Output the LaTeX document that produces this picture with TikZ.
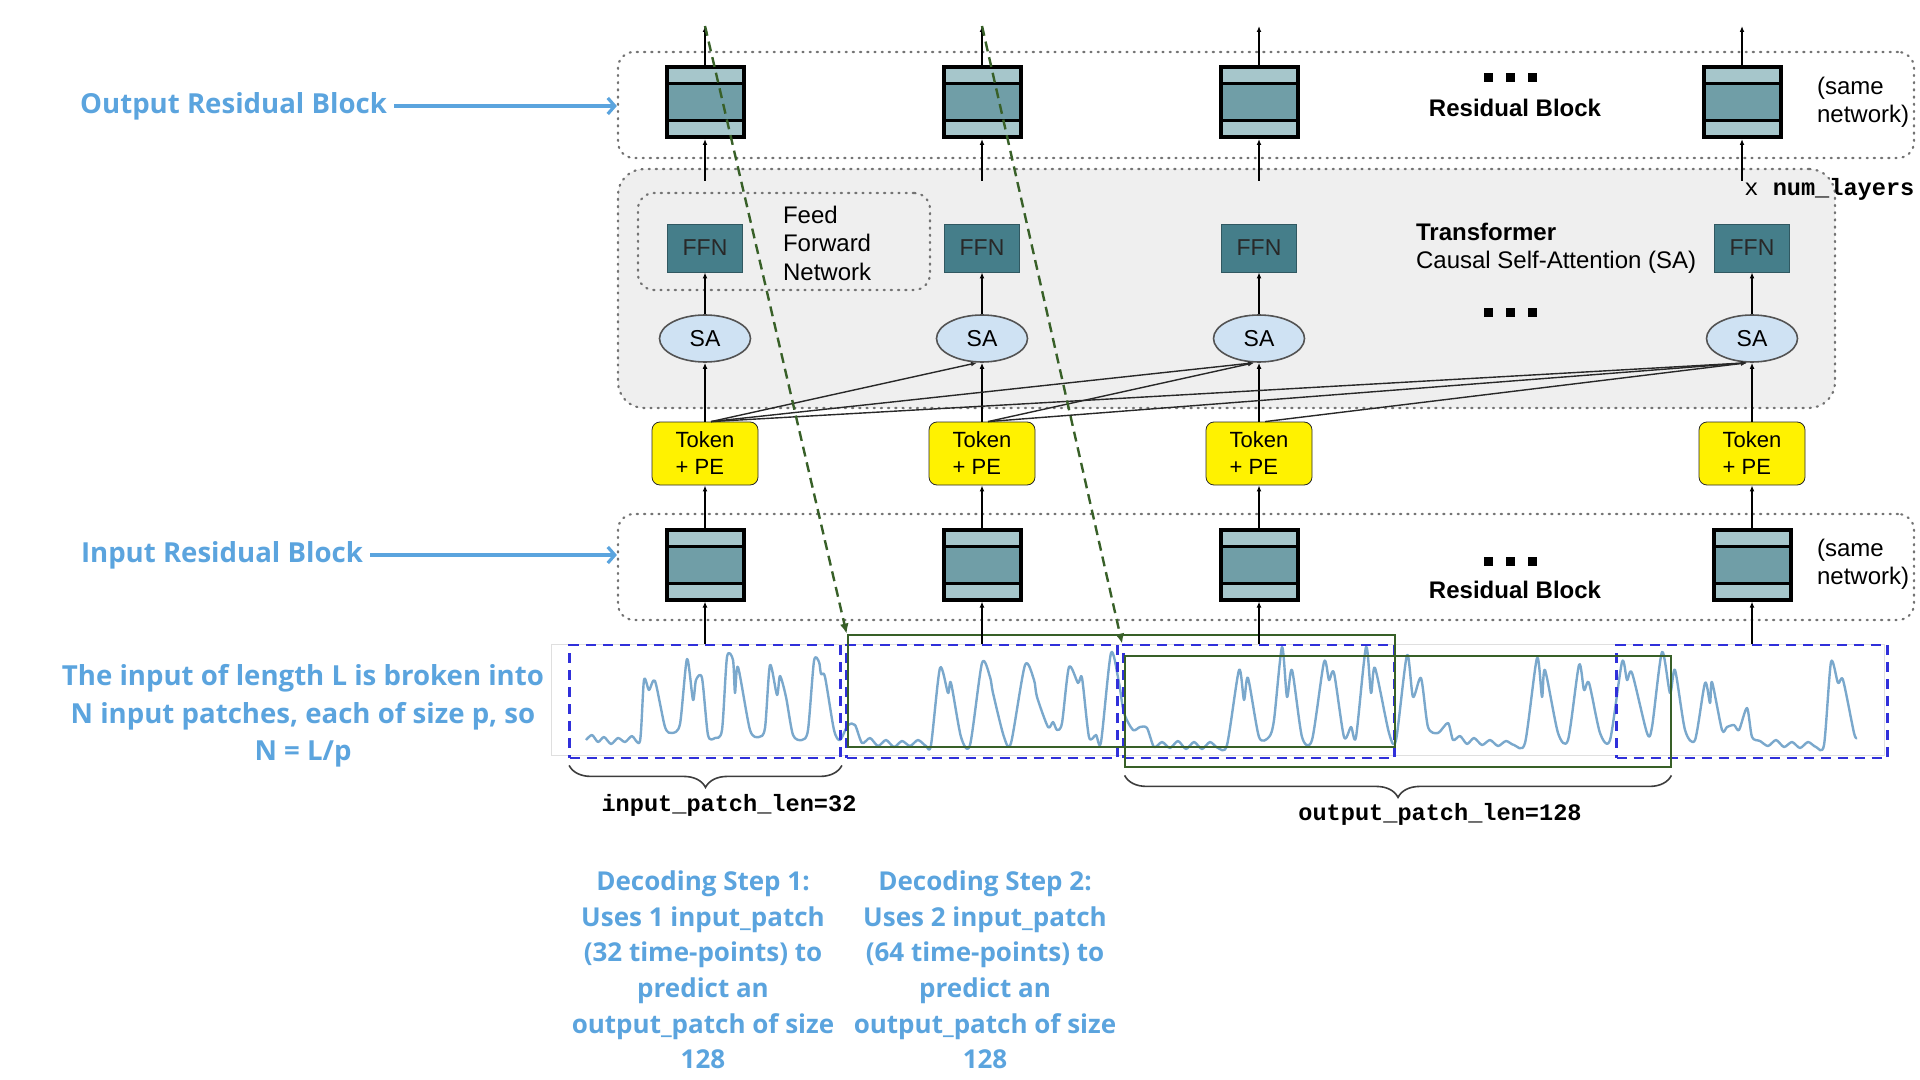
\documentclass[tikz,border=0pt]{standalone}
\usepackage{fontspec}
\setmainfont{Liberation Sans}
\newfontfamily\notefont{Open Sans}
\newfontfamily\codefont{Liberation Mono}
\usepackage{tikz}
\usetikzlibrary{arrows.meta, calc, positioning, shapes.geometric, decorations.pathreplacing}
\usepackage{xcolor}
\definecolor{NoteBlue}{RGB}{91,164,222}
\definecolor{ResLite}{RGB}{166,198,203}
\definecolor{ResMid}{RGB}{112,158,167}
\definecolor{FfnTeal}{RGB}{69,126,138}
\definecolor{SaBlue}{RGB}{207,226,243}
\definecolor{AreaGray}{RGB}{239,239,239}
\definecolor{PatchBlue}{RGB}{48,48,218}
\definecolor{OutGreen}{RGB}{56,96,40}
\definecolor{SeriesBlue}{RGB}{122,168,204}
\definecolor{RichBlack}{RGB}{40,40,40}
\tikzset{%
  res_block/.style={%
    rectangle,%
    draw=black,%
    line width=2pt,%
    fill=ResMid,%
    inner sep=0pt,%
    minimum width=38.5pt,%
    minimum height=35pt,%
    path picture={%
      \fill[ResLite] (path picture bounding box.north west) rectangle
        ([yshift=-8.5pt]path picture bounding box.north east);
      \fill[ResLite] (path picture bounding box.south west) rectangle
        ([yshift=8pt]path picture bounding box.south east);
      \draw[line width=1.5pt] ([yshift=-8.5pt]path picture bounding box.north west)
        -- ([yshift=-8.5pt]path picture bounding box.north east);
      \draw[line width=1.5pt] ([yshift=8pt]path picture bounding box.south west)
        -- ([yshift=8pt]path picture bounding box.south east);
    },%
  },
  ffn_block/.style={%
    rectangle,%
    draw=FfnTeal!70!black,%
    fill=FfnTeal,%
    minimum width=37.5pt,%
    minimum height=24pt,%
    font={\fontsize{11.5}{13}\selectfont},%
    text=RichBlack,%
  },
  sa_node/.style={%
    ellipse,%
    draw=RichBlack!80,%
    thick,%
    fill=SaBlue,%
    minimum width=45.5pt,%
    minimum height=23.5pt,%
    inner sep=0pt,%
    font={\fontsize{11.5}{13}\selectfont},%
  },
  token_block/.style={%
    rectangle,%
    rounded corners=4pt,%
    draw=RichBlack,%
    fill=yellow,%
    minimum width=53pt,%
    minimum height=31.5pt,%
    inner sep=0pt,%
    align=left,%
    font={\fontsize{11}{13.5}\selectfont},%
  },
  area_box/.style={%
    rectangle,%
    draw=gray!90!black,%
    line width=1.1pt,%
    dash pattern=on 0.6pt off 3pt,%
    line cap=round,%
    rounded corners=8pt,%
  },
  patch_box/.style={%
    rectangle,%
    draw=PatchBlue,%
    line width=1.4pt,%
    dash pattern=on 5pt off 3.5pt,%
    minimum width=135.5pt,%
    minimum height=56.5pt,%
  },
  out_box/.style={%
    rectangle,%
    draw=OutGreen,%
    line width=1.4pt,%
  },
  signal/.style={%
    color=black,%
    line width=0.6pt,%
  },
  arrow/.style={-{Latex[length=3pt, width=2.4pt]}},
  attn_path/.style={%
    color=RichBlack,%
    line width=0.7pt,%
    -{Latex[length=3pt, width=2.4pt]},%
  },
  step_arrow/.style={%
    color=OutGreen,%
    line width=1.2pt,%
    dash pattern=on 5pt off 3pt,%
    -{Latex[length=5pt, width=4.5pt]},%
  },
  note/.style={%
    text=NoteBlue,%
    font={\notefont\bfseries\fontsize{13}{17.8}\selectfont},%
    align=center,%
  },
  big_note/.style={%
    note,%
    font={\notefont\bfseries\fontsize{13.8}{18.75}\selectfont},%
  },
  note_arrow/.style={%
    color=NoteBlue,%
    line width=1.6pt,%
    -{Straight Barb[length=3.5pt, width=8pt]},%
  },
  annotate/.style={%
    font={\fontsize{12}{14}\selectfont},%
    align=left,%
  },
  code_label/.style={%
    font={\codefont\bfseries\fontsize{11.8}{13}\selectfont},%
  },
  series/.style={%
    color=SeriesBlue,%
    line width=1.2pt,%
    line join=round,%
  },
}

\begin{document}
\begin{tikzpicture}[x=0.5pt, y=-0.5pt]
  \useasboundingbox (0,0) rectangle (1920,1080);

  % grouping areas
  \node [area_box, minimum width=648pt, minimum height=53pt] (resoutarea) at (1266,105) {};
  \node [area_box, fill=AreaGray, rounded corners=13pt,
    minimum width=608.5pt, minimum height=119.5pt] (tfarea) at (1226.5,288.5) {};
  \node [area_box, minimum width=146pt, minimum height=48.5pt] (ffnarea) at (784,241.5) {};
  \node [area_box, minimum width=648pt, minimum height=53pt] (resinarea) at (1266,567) {};

  % time series
  \node [draw=gray!25, line width=0.5pt, minimum width=666.5pt, minimum height=55.5pt]
    (chart) at (1217.5,699.5) {};
  \draw [series] plot [smooth, tension=0.45] coordinates {
    (586,740) (592,735) (598,742) (604,737) (611,744) (618,738) (625,742) (632,736) (640,741)
    (644,680) (649,690) (655,681) (665,727) (672,733) (680,724)
    (687,659) (693,700) (696,680) (702,678) (708,735) (715,738) (722,730)
    (727,657) (733,660) (735,693) (738,667) (750,730) (759,737) (765,728)
    (770,665) (777,695) (780,676) (786,697) (793,735) (802,740) (808,730)
    (814,661) (819,662) (821,674) (825,677) (834,730) (840,740)
    (848,725) (855,725) (862,743) (870,738) (878,746) (886,740) (894,747) (902,741)
    (910,746) (918,740) (926,746) (931,745)
    (940,668) (948,693) (951,683) (961,737) (970,745)
    (982,663) (990,677) (993,693) (1004,737) (1011,743)
    (1025,665) (1034,680) (1037,697) (1048,727) (1053,722) (1057,730) (1062,723)
    (1069,667) (1078,683) (1082,678) (1089,737) (1096,735) (1101,742)
    (1111,653) (1119,683) (1124,713) (1133,730) (1140,727) (1147,728) (1154,747)
    (1162,742) (1170,748) (1178,741) (1186,749) (1194,742) (1202,749) (1210,742) (1218,748) (1227,745)
    (1239,670) (1244,700) (1248,678) (1259,737) (1269,737) (1274,720)
    (1282,647) (1287,697) (1292,670) (1302,737) (1312,740)
    (1324,662) (1329,680) (1334,673) (1344,737) (1351,727) (1356,737)
    (1366,647) (1371,693) (1375,668) (1389,733) (1396,740)
    (1407,655) (1413,697) (1421,678) (1428,727) (1438,733)
    (1448,723) (1453,740) (1460,736) (1467,744) (1474,738) (1482,745) (1490,740)
    (1498,746) (1506,741) (1514,745) (1525,743)
    (1537,658) (1542,697) (1545,670) (1558,733) (1568,740)
    (1579,665) (1584,690) (1589,683) (1600,733) (1610,740)
    (1622,662) (1627,680) (1632,673) (1647,733) (1652,727)
    (1662,652) (1670,693) (1675,670) (1685,730) (1695,740)
    (1705,683) (1710,703) (1712,682) (1722,730) (1727,727)
    (1734,725) (1739,730) (1747,708) (1752,737) (1760,741) (1768,746) (1776,740)
    (1784,747) (1792,742) (1800,748) (1808,742) (1816,747) (1824,745)
    (1831,662) (1838,683) (1843,680) (1854,733) (1857,738)
  };

  % columns
  \foreach \i/\xc in {1/705, 2/982, 3/1259, 4/1752} {
    \node [ffn_block] (ffn\i) at (\xc,248) {FFN};
    \node [sa_node] (sa\i) at (\xc,338.5) {SA};
    \node [token_block] (tok\i) at (\xc,453.5) {Token\\+ PE};
    \node [res_block] (resin\i) at (\xc,564.5) {};
    \node [patch_box] (patch\i) at (\xc,701.5) {};
  }
  \foreach \i/\xc in {1/705, 2/982, 3/1259, 4/1742} {
    \node [res_block] (resout\i) at (\xc,102) {};
    \coordinate (top\i) at (\xc,26);
    \coordinate (tfout\i) at (\xc,181);
  }

  \node [out_box, minimum width=273.5pt, minimum height=56pt] (outpatch1) at (1121.5,691) {};
  \node [out_box, minimum width=273pt, minimum height=55.5pt] (outpatch2) at (1398,711.5) {};

  % vertical signal flow
  \foreach \i in {1,...,4} {
    \draw [signal, arrow] (patch\i.north) -- (resin\i.south);
    \draw [signal, arrow] (resin\i.north) -- (tok\i.south);
    \draw [signal, arrow] (tok\i.north) -- (sa\i.south);
    \draw [signal, arrow] (sa\i.north) -- (ffn\i.south);
    \draw [signal, arrow] (tfout\i) -- (resout\i.south);
    \draw [signal, arrow] (resout\i.north) -- (top\i);
  }

  % causal attention
  \foreach \s/\t in {1/2, 1/3, 1/4, 2/3, 2/4, 3/4}
    \draw [attn_path] ([xshift=3pt]tok\s.north) -- ([xshift=-2.5pt]sa\t.south);

  % decoding steps
  \draw [step_arrow] (top1) -- (outpatch1.north west);
  \draw [step_arrow] (top2) -- (patch3.north west);

  % ellipses
  \foreach \yc in {78, 313, 561}
    \foreach \dx in {1488, 1510, 1532}
      \fill (\dx-4.5,\yc-4.5) rectangle (\dx+4.5,\yc+4.5);

  % texts in the diagram
  \node [annotate, font={\bfseries\fontsize{12}{14}\selectfont}] (resouttext) at (1515,108) {Residual Block};
  \node [annotate, font={\bfseries\fontsize{12}{14}\selectfont}] (resintext) at (1515,590) {Residual Block};
  \node [annotate, anchor=west] (sameout) at (1810,102) {(same\\network)};
  \node [annotate, anchor=west] (samein) at (1810,564.5) {(same\\network)};
  \node [annotate, anchor=west, font={\fontsize{12}{14.25}\selectfont}] (ffntext) at (776,243) {Feed\\Forward\\Network};
  \node [annotate, anchor=west] (tftext) at (1409,248)
    {\textbf{Transformer}\\Causal Self-Attention (SA)};
  \node [anchor=west, font={\codefont\fontsize{11.8}{13}\selectfont}, inner sep=0pt] (layers) at (1744,189)
    {x \textbf{num\_layers}};

  % braces
  \draw [RichBlack!90, line width=0.8pt, decorate, decoration={brace, mirror, amplitude=11pt}]
    ($(patch1.south west)+(1,6)$) -- ($(patch1.south east)+(0,6)$);
  \draw [RichBlack!90, line width=0.8pt, decorate, decoration={brace, mirror, amplitude=11pt}]
    ($(outpatch2.south west)+(1,7)$) -- ($(outpatch2.south east)+(-1,7)$);
  \node [code_label] (inlen) at (729,805) {input\_patch\_len=32};
  \node [code_label] (outlen) at (1440,814) {output\_patch\_len=128};

  % notes
  \node [big_note, anchor=east] (outlabel) at (394,106) {Output Residual Block};
  \node [big_note, anchor=east] (inlabel) at (370,555) {Input Residual Block};
  \draw [note_arrow] (outlabel.east) -- (outlabel.east -| resoutarea.west);
  \draw [note_arrow] (inlabel.east) -- (inlabel.east -| resinarea.west);
  \node [big_note] (patchnote) at (303,716)
    {The input of length L is broken into\\N input patches, each of size p, so\\N = L/p};
  \node [note] (step1) at (703,970)
    {Decoding Step 1:\\Uses 1 input\_patch\\(32 time-points) to\\predict an\\output\_patch of size\\128};
  \node [note] (step2) at (985,970)
    {Decoding Step 2:\\Uses 2 input\_patch\\(64 time-points) to\\predict an\\output\_patch of size\\128};

\end{tikzpicture}
\end{document}
